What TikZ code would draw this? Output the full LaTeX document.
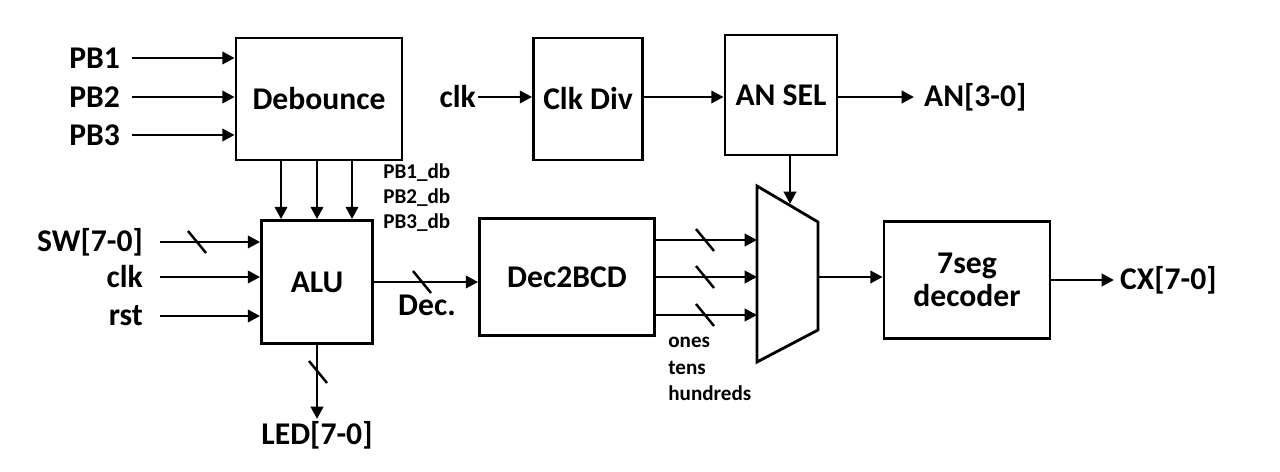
\documentclass[tikz,border=0pt]{standalone}
\usepackage{fontspec}
\setmainfont{Carlito}
\usetikzlibrary{positioning,calc,arrows.meta}

\tikzset{
  blk/.style={draw,line width=1.6pt,minimum width=#1,inner sep=0pt,
    font=\fontsize{18}{19}\selectfont\bfseries,align=center},
  lbl/.style={font=\fontsize{18}{20}\selectfont\bfseries,inner sep=1pt},
  sml/.style={font=\fontsize{12}{14}\selectfont\bfseries,inner sep=0pt,anchor=west},
  sig/.style={line width=1.6pt,-{Triangle[length=7pt,width=7pt]}},
  bus/.style={line width=1.4pt}
}
\newcommand{\busmark}[1]{\draw[bus] ($(#1)+(-9,-11)$) -- ($(#1)+(9,11)$);}

\begin{document}
\begin{tikzpicture}[x=0.02cm,y=-0.02cm]
  \useasboundingbox (0,0) rectangle (1280,472);

  % blocks
  \node[blk=3.32cm,minimum height=2.44cm] (deb) at (319,99) {Debounce};
  \node[blk=2.22cm,minimum height=2.46cm] (alu) at (317,282) {ALU};
  \node[blk=3.5cm,minimum height=2.34cm] (bcd) at (567,277) {Dec2BCD};
  \node[blk=2.18cm,minimum height=2.44cm] (div) at (588,99) {Clk Div};
  \node[blk=2.24cm,minimum height=2.4cm] (ansel) at (781,95) {AN SEL};
  \node[blk=3.32cm,minimum height=2.34cm] (seg) at (967,280) {7seg\\decoder};

  % mux
  \coordinate (m1) at (757,186);
  \coordinate (m2) at (818,222);
  \coordinate (m3) at (818,330);
  \coordinate (m4) at (757,362);
  \draw[line width=1.6pt] (m1) -- (m2) -- (m3) -- (m4) -- cycle;

  % inputs to debounce
  \node[lbl,anchor=east] (pb1) at (122,58) {PB1};
  \node[lbl,anchor=east] (pb2) at (122,97) {PB2};
  \node[lbl,anchor=east] (pb3) at (122,135) {PB3};
  \foreach \n in {pb1,pb2,pb3}
    \draw[sig] ($(\n.east)+(10,0)$) -- (\n.east -| deb.west);

  % debounce to alu
  \foreach \x in {281,317,352}
    \draw[sig] (\x,0 |- deb.south) -- (\x,0 |- alu.north);
  \node[sml] (db1) at (383,173) {PB1\_db};
  \node[sml] (db2) at (383,198) {PB2\_db};
  \node[sml] (db3) at (383,223) {PB3\_db};

  % alu inputs
  \node[lbl,anchor=east] (sw) at (145,242) {SW[7-0]};
  \node[lbl,anchor=east] (clka) at (145,277) {clk};
  \node[lbl,anchor=east] (rst) at (145,316) {rst};
  \foreach \n in {sw,clka,rst}
    \draw[sig] ($(\n.east)+(15,0)$) -- (\n.east -| alu.west);
  \busmark{197,242}

  % alu outputs
  \draw[sig] (alu.east |- 0,282) -- (bcd.west |- 0,282);
  \busmark{422,282}
  \node[lbl] (dec) at (427,305) {Dec.};
  \node[lbl] (led) at (317,435) {LED[7-0]};
  \draw[sig] (alu.south) -- (led.north);
  \busmark{318,372}

  % clock path
  \node[lbl,anchor=east] (clkb) at (478,97) {clk};
  \draw[sig] (clkb.east) -- (clkb.east -| div.west);
  \draw[sig] (div.east |- 0,97) -- (ansel.west |- 0,97);
  \node[lbl,anchor=west] (an) at (922,97) {AN[3-0]};
  \draw[sig] (ansel.east |- 0,97) -- ($(an.west)+(-8,0)$);
  \draw[sig] (790,0 |- ansel.south) -- (790,204);

  % bcd to mux
  \foreach \y in {240,277,315} {
    \draw[sig] (bcd.east |- 0,\y) -- (757,\y);
    \busmark{705,\y}
  }
  \node[sml] (ones) at (668,342) {ones};
  \node[sml] (tens) at (668,368) {tens};
  \node[sml] (hund) at (668,393) {hundreds};

  % mux to decoder and out
  \draw[sig] (818,277) -- (seg.west |- 0,277);
  \node[lbl,anchor=west] (cx) at (1118,280) {CX[7-0]};
  \draw[sig] (seg.east) -- ($(cx.west)+(-4,0)$);
\end{tikzpicture}
\end{document}
